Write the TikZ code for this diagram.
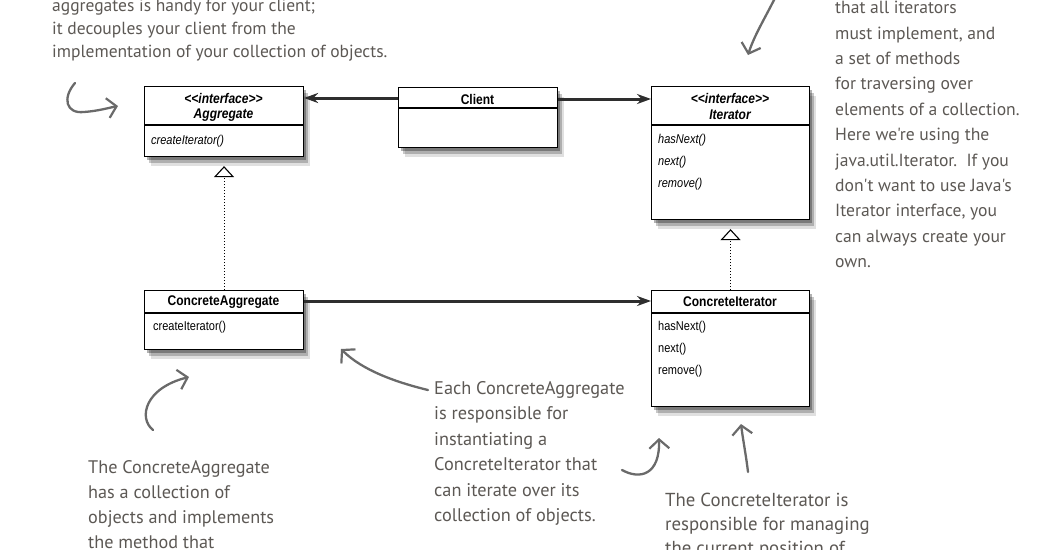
\documentclass[tikz,border=0pt]{standalone}
\usepackage{fontspec}
\setmainfont{Liberation Sans}
\newfontfamily\cls[FakeStretch=0.86]{Liberation Sans}
\newfontfamily\hand{PT Sans}
\usetikzlibrary{arrows.meta,shadows}
\definecolor{ink}{HTML}{5C5854}
\definecolor{pen}{HTML}{6A6A6A}
\definecolor{assocline}{HTML}{2E2E2E}
\begin{document}
\begin{tikzpicture}[x=1pt,y=-1pt,
  classbox/.style={draw=black, line width=1.1pt, fill=white, inner sep=0pt, anchor=north west,
    drop shadow={shadow xshift=2pt, shadow yshift=-3pt, opacity=0.30, fill=black},
    drop shadow={shadow xshift=4pt, shadow yshift=-6pt, opacity=0.22, fill=black},
    drop shadow={shadow xshift=6pt, shadow yshift=-9pt, opacity=0.12, fill=black}},
  divider/.style={line width=1.1pt},
  cname/.style={font=\cls\fontsize{14}{16}\selectfont\bfseries, inner sep=0pt},
  iname/.style={font=\cls\fontsize{14}{16}\selectfont\bfseries\itshape, inner sep=0pt},
  meth/.style={font=\cls\fontsize{12.8}{14}\selectfont, inner sep=0pt, anchor=west},
  imeth/.style={font=\cls\fontsize{12.8}{14}\selectfont\itshape, inner sep=0pt, anchor=west},
  assoc/.style={draw=assocline, line width=3pt, -{Stealth[length=14pt,width=10pt]}},
  realize/.style={draw=black, line width=1pt, dash pattern=on 1pt off 2pt,
    -{Triangle[open,length=11pt,width=20pt,line width=1.1pt]}},
  note/.style={text=ink, align=left, anchor=north west, inner sep=0pt},
  penarrow/.style={draw=pen, line width=2.3pt, line cap=round, line join=round,
    -{Straight Barb[length=9pt,width=20pt,line width=2.2pt]}}
]
\useasboundingbox (0,0) rectangle (1047,549);
\clip (0,0) rectangle (1047,549);

% ---- class boxes ----
\node[classbox, minimum width=159pt, minimum height=70pt] (agg) at (144,86) {};
\node[classbox, minimum width=159pt, minimum height=60pt] (client) at (398,87) {};
\node[classbox, minimum width=158pt, minimum height=133pt] (iter) at (651,86) {};
\node[classbox, minimum width=159pt, minimum height=59pt] (cagg) at (144,290) {};
\node[classbox, minimum width=158pt, minimum height=116pt] (citer) at (651,290) {};

\draw[divider] ([yshift=-39pt]agg.north west) -- ([yshift=-39pt]agg.north east);
\draw[divider] ([yshift=-21pt]client.north west) -- ([yshift=-21pt]client.north east);
\draw[divider] ([yshift=-39pt]iter.north west) -- ([yshift=-39pt]iter.north east);
\draw[divider] ([yshift=-23pt]cagg.north west) -- ([yshift=-23pt]cagg.north east);
\draw[divider] ([yshift=-23pt]citer.north west) -- ([yshift=-23pt]citer.north east);

% ---- class texts ----
\node[iname] (aggst) at (223.5,98) {<{}<interface>{}>};
\node[iname] (aggnm) at (223.5,115) {Aggregate};
\node[imeth] (aggm1) at (151,141) {createIterator()};

\node[cname] (clnm) at (477.5,99) {Client};

\node[iname] (itst) at (730,98) {<{}<interface>{}>};
\node[iname] (itnm) at (730,115) {Iterator};
\node[imeth] (itm1) at (658,140) {hasNext()};
\node[imeth] (itm2) at (658,162) {next()};
\node[imeth] (itm3) at (658,184) {remove()};

\node[cname] (caggnm) at (223.5,302) {ConcreteAggregate};
\node[meth] (caggm1) at (153,327) {createIterator()};

\node[cname] (citnm) at (730,302) {ConcreteIterator};
\node[meth] (citm1) at (658,327) {hasNext()};
\node[meth] (citm2) at (658,349) {next()};
\node[meth] (citm3) at (658,371) {remove()};

% ---- relations ----
\draw[assoc] ([yshift=-11pt]client.north west) -- ([yshift=-12pt]agg.north east);
\draw[assoc] ([yshift=-12pt]client.north east) -- ([yshift=-13pt]iter.north west);
\draw[assoc] ([yshift=-11pt]cagg.north east) -- ([yshift=-11pt]citer.north west);
\draw[realize] (cagg.north) -- ([yshift=-9pt]agg.south);
\draw[realize] (citer.north) -- ([yshift=-9pt]iter.south);

% ---- notes ----
\node[note, font=\hand\fontsize{17.5}{23}\selectfont] (n1) at (52,-1) {aggregates is handy for your client;\\
it decouples your client from the\\
implementation of your collection of objects.};

\node[note, font=\hand\fontsize{17.6}{25.4}\selectfont] (n2) at (835,1) {that all iterators\\
must implement, and\\
a set of methods\\
for traversing over\\
elements of a collection.\\
Here we're using the\\
java.util.Iterator.\ \ If you\\
don't want to use Java's\\
Iterator interface, you\\
can always create your\\
own.};

\node[note, font=\hand\fontsize{18.2}{25}\selectfont] (n3) at (88,460) {The ConcreteAggregate\\
has a collection of\\
objects and implements\\
the method that};

\node[note, font=\hand\fontsize{18.3}{25.5}\selectfont] (n4) at (434,381) {Each ConcreteAggregate\\
is responsible for\\
instantiating a\\
ConcreteIterator that\\
can iterate over its\\
collection of objects.};

\node[note, font=\hand\fontsize{18.8}{24}\selectfont] (n5) at (665,493) {The ConcreteIterator is\\
responsible for managing\\
the current position of};

% ---- pen arrows ----
\coordinate (h1s) at (75,83);
\coordinate (h1e) at (118,106);
\draw[penarrow] (h1s) .. controls (62,98) and (66,114) .. (84,112) .. controls (98,111) and (108,108) .. (h1e);

\coordinate (h2s) at (775,-2);
\coordinate (h2e) at (748,55);
\draw[penarrow] (h2s) .. controls (765,18) and (754,36) .. (h2e);

\coordinate (h3s) at (153,430);
\coordinate (h3e) at (189,377);
\draw[penarrow] (h3s) .. controls (138,418) and (145,388) .. (h3e);

\coordinate (h4s) at (428,390);
\coordinate (h4e) at (341,349);
\draw[penarrow] (h4s) .. controls (395,382) and (362,370) .. (h4e);

\coordinate (h5s) at (622,470);
\coordinate (h5e) at (659,438);
\draw[penarrow] (h5s) .. controls (640,480) and (660,475) .. (h5e);

\coordinate (h6s) at (748,472);
\coordinate (h6e) at (741,424);
\draw[penarrow] (h6s) .. controls (746,455) and (743,440) .. (h6e);
\end{tikzpicture}
\end{document}
